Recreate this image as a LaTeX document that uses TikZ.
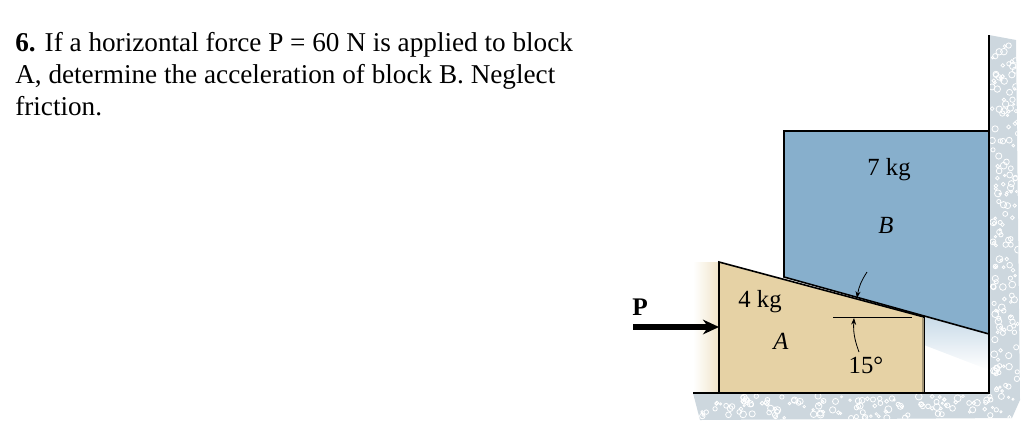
\documentclass[tikz,border=0pt]{standalone}
\usepackage{fontspec}
\setmainfont{Liberation Serif}
\usetikzlibrary{arrows.meta}
\begin{document}
\begin{tikzpicture}[x=0.75pt,y=-0.75pt,
  lbl/.style={font=\fontsize{18.5}{20}\selectfont, inner sep=0pt},
  edge/.style={line width=1.2pt, draw=black}]
\definecolor{bfill}{RGB}{135,175,204}
\definecolor{afill}{RGB}{230,210,165}
\definecolor{conc}{RGB}{205,215,222}
\useasboundingbox (0,0) rectangle (1024,444);
% text
\node[anchor=north west, align=left, inner sep=0pt, font=\fontsize{20.4}{24}\selectfont] (q) at (15,32)
 {\textbf{6.} If a horizontal force P = 60 N is applied to block\\A, determine the acceleration of block B. Neglect\\friction.};
% concrete
\fill[conc] (989,35) -- (1016,40) -- (1020,400) -- (1012,418) -- (700,420) -- (693,393) -- (989,393) -- cycle;
\begin{scope}
\clip (989,35) -- (1016,40) -- (1020,400) -- (1012,418) -- (700,420) -- (693,393) -- (989,393) -- cycle;
\pgfmathsetseed{7}
\foreach \i in {1,...,160}{
  \pgfmathsetmacro\xx{992+26*rnd}\pgfmathsetmacro\yy{40+360*rnd}\pgfmathsetmacro\rr{1+2.5*rnd}
  \draw[white, line width=0.6pt] (\xx,\yy) circle (\rr);}
\foreach \i in {1,...,130}{
  \pgfmathsetmacro\xx{700+310*rnd}\pgfmathsetmacro\yy{396+22*rnd}\pgfmathsetmacro\rr{1+2.5*rnd}
  \draw[white, line width=0.6pt] (\xx,\yy) circle (\rr);}
\end{scope}
% shade left of A
\shade[left color=white, right color=afill!60] (693,262) rectangle (719,393);
% shade under B
\shade[top color=bfill!45, bottom color=white] (924,317) -- (989,334) -- (989,370) -- (924,345) -- cycle;
% block B
\coordinate (b1) at (784,131); \coordinate (b2) at (989,131);
\coordinate (b3) at (989,334); \coordinate (b4) at (784,277);
\filldraw[fill=bfill, edge] (b1) -- (b2) -- (b3) -- (b4) -- cycle;
% block A
\coordinate (a1) at (719,262); \coordinate (a2) at (924,317);
\coordinate (a3) at (924,393); \coordinate (a4) at (719,393);
\filldraw[fill=afill, edge] (a1) -- (a2) -- (a3) -- (a4) -- cycle;
\draw[afill!70!black, line width=1.5pt] (923,318) -- (923,392);
% wall and floor
\coordinate (wt) at (989,35); \coordinate (wb) at (989,393); \coordinate (fl) at (693,393);
\draw[edge, line width=1.6pt] (wt) -- (wb) -- (fl);
% labels
\node[lbl] (m7) at (889,170) {7 kg};
\node[lbl] (nB) at (886,225) {\textit{B}};
\node[lbl] (m4) at (760,302) {4 kg};
\node[lbl] (nA) at (781,341) {\textit{A}};
\node[lbl] (ang) at (866,365) {15°};
\node[font=\fontsize{19}{20}\selectfont\bfseries, inner sep=0pt] (P) at (640,307) {P};
% reference line and arrows
\coordinate (h1) at (833,317); \coordinate (h2) at (912,317);
\draw[line width=0.7pt] (h1) -- (h2);
\coordinate (c1) at (859,352); \coordinate (c2) at (854,318);
\draw[-{Stealth[length=5pt]}, line width=0.6pt] (c1) to[bend left=12] (c2);
\coordinate (d1) at (867,272); \coordinate (d2) at (857,298);
\draw[-{Stealth[length=5pt]}, line width=0.6pt] (d1) to[bend right=12] (d2);
\coordinate (p0) at (633,327);
\draw[-{Stealth[length=12pt,width=11pt]}, line width=4pt] (p0) -- (a1|-p0);
\end{tikzpicture}
\end{document}
